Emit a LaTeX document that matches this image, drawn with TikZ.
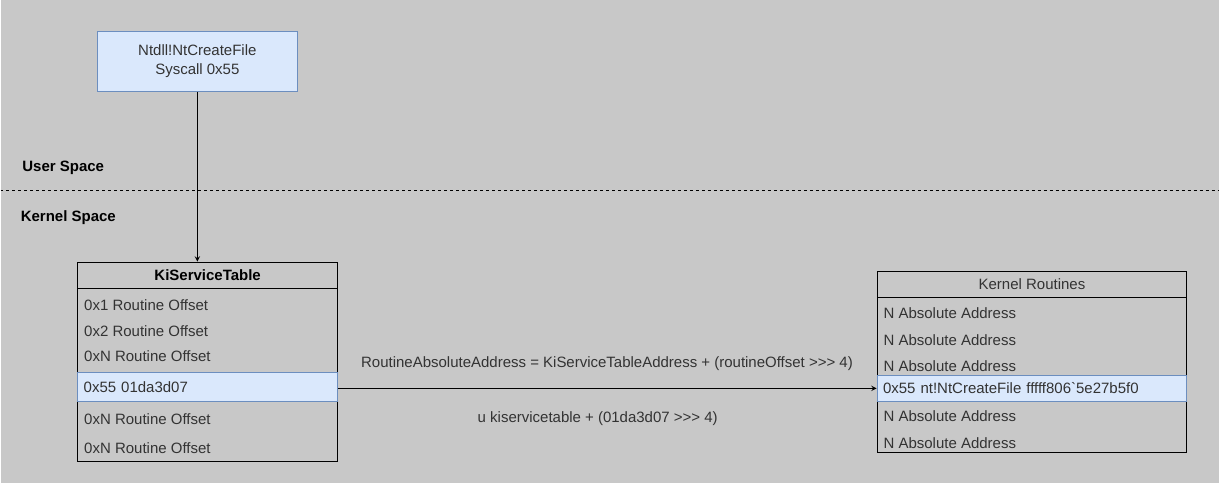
\documentclass[tikz,border=0pt]{standalone}
\usepackage{fontspec}
\setmainfont{Liberation Sans}
\definecolor{bggray}{HTML}{C8C8C8}
\definecolor{rowblue}{HTML}{DAE8FC}
\definecolor{rowedge}{HTML}{6C8EBF}
\definecolor{txtgray}{HTML}{333333}

\begin{document}
\begin{tikzpicture}[x=0.75pt, y=-0.75pt, >=stealth, line width=0.75pt,
  font=\fontsize{11.25}{14.25}\selectfont,
  callbox/.style={draw=rowedge, fill=rowblue, text=txtgray, align=center, minimum width=150pt, minimum height=45pt},
  tablebox/.style={draw, minimum width=#1},
  rowtext/.style={anchor=west, text=txtgray, inner xsep=4.5pt},
  hlrow/.style={draw=rowedge, fill=rowblue, text=txtgray, align=left, inner xsep=4.5pt, text width=#1},
  spacelabel/.style={anchor=base west, font=\fontsize{11.25}{14.25}\selectfont\bfseries}]
\fill[bggray] (0,0) rectangle (1219,483);

% user / kernel split
\coordinate (sepL) at (0,191);
\coordinate (sepR) at (1219,191);
\draw[dash pattern=on 2.25pt off 2.25pt] (sepL) -- (sepR);
\node [spacelabel] (user) at (17,171.7) {User Space};
\node [spacelabel] (kernel) at (15.4,222) {Kernel Space};

% syscall
\node [callbox] (ntdll) at (197,61.5) {Ntdll!NtCreateFile\\Syscall 0x55};

% KiServiceTable
\node [tablebox=195pt, minimum height=150pt] (ks) at (207.3,362.3) {};
\node [tablebox=195pt, minimum height=19.5pt, font=\fontsize{11.25}{14.25}\selectfont\bfseries] (kshead) at (207.3,275.3) {KiServiceTable};
\foreach \y/\t [count=\i] in {305.5/0x1 Routine Offset, 331.2/0x2 Routine Offset, 356.5/0xN Routine Offset, 419.2/0xN Routine Offset, 448.8/0xN Routine Offset}
  \node [rowtext] (ksrow\i) at (77.3,\y) {\t};
\node [hlrow=186pt, minimum height=22.5pt] (ks55) at (207.3,387.3) {0x55 01da3d07};

% Kernel Routines
\node [tablebox=232.5pt, minimum height=136.2pt] (kr) at (1032.3,362.5) {};
\node [tablebox=232.5pt, minimum height=19.2pt, text=txtgray] (krhead) at (1032.3,284.8) {Kernel Routines};
\foreach \y [count=\i] in {313.7, 340, 366, 416.7, 443.7}
  \node [rowtext] (krrow\i) at (877.3,\y) {N Absolute Address};
\node [hlrow=223.5pt, minimum height=19.5pt] (kr55) at (1032.3,388.7) {0x55 nt!NtCreateFile fffff806\textasciigrave 5e27b5f0};

% connectors
\draw[->] (ntdll.south) -- (ntdll.south |- kshead.north);
\draw[->] (ks55.east |- kr55.west) -- (kr55.west);
\node [text=txtgray] (formula) at (607,364) {RoutineAbsoluteAddress = KiServiceTableAddress + (routineOffset >{}>{}> 4)};
\node [text=txtgray] (wincmd) at (597.7,419) {u kiservicetable + (01da3d07 >{}>{}> 4)};
\end{tikzpicture}
\end{document}
